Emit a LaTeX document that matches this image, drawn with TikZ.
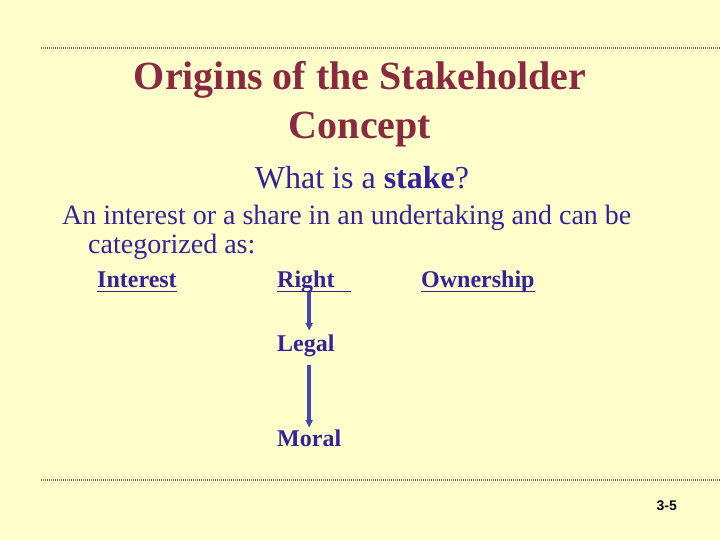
\documentclass[tikz,border=0pt]{standalone}
\usepackage{fontspec}
\setmainfont{Liberation Serif}
\newfontfamily\pagefont{Liberation Sans}
\usetikzlibrary{arrows.meta}
\definecolor{slidebg}{HTML}{FFFFCC}
\definecolor{titlered}{HTML}{8B2942}
\definecolor{bodyblue}{HTML}{332299}
\definecolor{linkblue}{HTML}{4448B0}
\definecolor{rulegray}{HTML}{7A7458}
\newcommand{\ulined}[1]{\setbox0\hbox{#1}\rlap{\rule[-5pt]{\wd0}{1.5pt}}\box0}
\tikzstyle{dotrule}=[rulegray, line width=1.5pt, dash pattern=on 1pt off 1pt]
\tikzstyle{heading}=[inner sep=0pt,
                     anchor=base,
                     text=titlered,
                     font=\fontsize{40}{48}\selectfont\bfseries]
\tikzstyle{body}=[inner sep=0pt, text=bodyblue]
\tikzstyle{catnode}=[inner sep=0pt,
                     text=bodyblue,
                     text width=80pt,
                     align=left,
                     text height=16pt,
                     text depth=5pt,
                     font=\fontsize{24}{28}\selectfont\bfseries]
\tikzstyle{link}=[linkblue, line width=3.5pt, -{Triangle[length=8pt,width=7pt]}]

\begin{document}
\begin{tikzpicture}[x=1pt,y=-1pt]
    \useasboundingbox (0,0) rectangle (720,540);
    \fill[slidebg] (0,0) rectangle (720,540);
    \coordinate (topL) at (41,48);
    \coordinate (topR) at (720,48);
    \coordinate (botL) at (41,480);
    \coordinate (botR) at (720,480);
    \draw[dotrule] (topL) -- (topR);
    \draw[dotrule] (botL) -- (botR);

    \node[heading] (title) at (360,90) {Origins of the Stakeholder};
    \node[heading] (concept) at (360,139) {Concept};
    \node[body, anchor=base, font=\fontsize{32}{38}\selectfont] (what) at (362,189) {What is a \textbf{stake}?};
    \node[body, anchor=base west, font=\fontsize{28}{32}\selectfont] (def) at (62,225) {An interest or a share in an undertaking and can be};
    \node[body, anchor=base west, font=\fontsize{28}{32}\selectfont] (defcont) at (88,254) {categorized as:};

    \node[catnode, anchor=base west] (interest) at (97,287) {\ulined{Interest}};
    \node[catnode, right of=interest, node distance=180pt] (right) {\ulined{Right\hspace{16pt}}};
    \node[catnode, right of=right, node distance=144pt] (owner) {\ulined{Ownership}};
    \node[catnode, below of=right, node distance=64pt] (legal) {Legal};
    \node[catnode, below of=legal, node distance=95pt] (moral) {Moral};

    \node[anchor=base east, inner sep=0pt, font=\pagefont\bfseries\fontsize{14}{16}\selectfont] (page) at (677,510) {3-5};

    \draw[link, shorten >=4pt] ([xshift=-8pt]right.south) -- ([xshift=-8pt]legal.north);
    \draw[link, shorten <=9pt, shorten >=2pt] ([xshift=-8pt]legal.south) -- ([xshift=-8pt]moral.north);
\end{tikzpicture}
\end{document}
